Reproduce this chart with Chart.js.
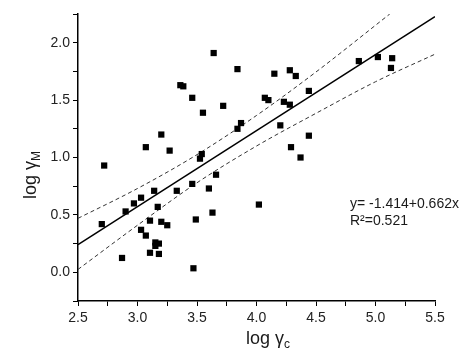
<!DOCTYPE html>
<html>
<head>
<meta charset="utf-8">
<script src="https://cdn.jsdelivr.net/npm/chart.js@4/dist/chart.umd.min.js"></script>
<style>
  html, body { margin: 0; padding: 0; background: #fff; }
  #wrap { width: 474px; height: 361px; }
</style>
</head>
<body>
<div id="wrap"><canvas id="chart" width="474" height="361"></canvas></div>
<script>
// log gamma_c vs log gamma_M, with linear fit and confidence band

const X_TICKS = [2.5, 3.0, 3.5, 4.0, 4.5, 5.0, 5.5];
const Y_TICKS = [0.0, 0.5, 1.0, 1.5, 2.0];

const logGc = [2.70, 2.72, 2.87, 2.90, 2.97, 3.03, 3.03, 3.07, 3.07, 3.105,
  3.105, 3.14, 3.15, 3.15, 3.17, 3.18, 3.18, 3.20, 3.20, 3.25,
  3.27, 3.33, 3.36, 3.385, 3.46, 3.46, 3.47, 3.49, 3.525, 3.54,
  3.55, 3.60, 3.63, 3.64, 3.66, 3.72, 3.84, 3.84, 3.87, 4.02,
  4.07, 4.10, 4.15, 4.20, 4.23, 4.28, 4.28, 4.29, 4.33, 4.37,
  4.44, 4.44, 4.86, 5.02, 5.13, 5.14];
const logGm = [0.42, 0.93, 0.125, 0.53, 0.60, 0.65, 0.37, 0.32, 1.09, 0.45,
  0.17, 0.71, 0.26, 0.23, 0.57, 0.25, 0.16, 0.44, 1.20, 0.41,
  1.06, 0.71, 1.63, 1.62, 0.77, 1.52, 0.035, 0.46, 0.99, 1.03,
  1.39, 0.73, 0.52, 1.91, 0.85, 1.45, 1.77, 1.25, 1.30, 0.59,
  1.52, 1.50, 1.73, 1.28, 1.485, 1.76, 1.46, 1.09, 1.71, 1.00,
  1.19, 1.58, 1.84, 1.875, 1.78, 1.865];

// fit line ends (y = -1.414 + 0.662x)
const fitX = [2.5, 5.5];
const fitY = [0.241, 2.227];

// dashed band
const upperX = [2.5, 3.0, 3.5, 4.0, 4.5, 5.12];
const upperY = [0.47, 0.73, 1.025, 1.366, 1.745, 2.25];
const lowerX = [2.5, 3.0, 3.5, 4.0, 4.5, 5.0, 5.5];
const lowerY = [0.025, 0.41, 0.78, 1.10, 1.385, 1.66, 1.90];

const toPts = (xs, ys) => xs.map((x, i) => ({ x: x, y: ys[i] }));

const FONT = "Liberation Sans, Arial, sans-serif";

const isMajor = (v, list) => list.some(t => Math.abs(t - v) < 1e-6);

// axis titles and the fit equation, drawn on the canvas
const textPlugin = {
  id: "texts",
  afterDraw(chart) {
    const ctx = chart.ctx;
    ctx.save();
    ctx.fillStyle = "#1a1a1a";
    ctx.textBaseline = "alphabetic";
    ctx.textAlign = "left";

    // x title
    ctx.font = "18px " + FONT;
    const xt = "log \u03b3";
    const xw = ctx.measureText(xt).width;
    ctx.font = "12px " + FONT;
    const xs = ctx.measureText("c").width;
    const xStart = 268 - (xw + xs) / 2;
    ctx.font = "18px " + FONT;
    ctx.fillText(xt, xStart, 344);
    ctx.font = "12px " + FONT;
    ctx.fillText("c", xStart + xw, 348);

    // y title
    ctx.save();
    ctx.translate(36, 175);
    ctx.rotate(-Math.PI / 2);
    ctx.font = "18px " + FONT;
    const yt = "log \u03b3";
    const yw = ctx.measureText(yt).width;
    ctx.font = "12px " + FONT;
    const ys = ctx.measureText("M").width;
    const yStart = -(yw + ys) / 2;
    ctx.font = "18px " + FONT;
    ctx.fillText(yt, yStart, 0);
    ctx.font = "12px " + FONT;
    ctx.fillText("M", yStart + yw, 4);
    ctx.restore();

    // equation
    ctx.font = "14px " + FONT;
    ctx.fillText("y= -1.414+0.662x", 350, 208);
    ctx.fillText("R\u00b2=0.521", 350, 225);
    ctx.restore();
  }
};

new Chart(document.getElementById("chart").getContext("2d"), {
  type: "scatter",
  data: {
    datasets: [
      {
        label: "points",
        data: toPts(logGc, logGm),
        pointStyle: "rect",
        pointRadius: 4.4,
        backgroundColor: "#000",
        borderColor: "#000",
        borderWidth: 0,
        order: 0
      },
      {
        label: "fit",
        data: toPts(fitX, fitY),
        showLine: true,
        pointRadius: 0,
        borderColor: "#000",
        borderWidth: 1.6,
        order: 1
      },
      {
        label: "upper",
        data: toPts(upperX, upperY),
        showLine: true,
        pointRadius: 0,
        borderColor: "#333",
        borderWidth: 1,
        borderDash: [4, 3],
        cubicInterpolationMode: "monotone",
        order: 2
      },
      {
        label: "lower",
        data: toPts(lowerX, lowerY),
        showLine: true,
        pointRadius: 0,
        borderColor: "#333",
        borderWidth: 1,
        borderDash: [4, 3],
        cubicInterpolationMode: "monotone",
        order: 2
      }
    ]
  },
  options: {
    responsive: false,
    animation: false,
    layout: { padding: { top: 14, right: 39, left: 0, bottom: 0 } },
    plugins: {
      legend: { display: false },
      tooltip: { enabled: false }
    },
    scales: {
      x: {
        type: "linear",
        min: 2.5,
        max: 5.5,
        afterFit: s => { s.height = 60; },
        ticks: {
          stepSize: 0.25,
          autoSkip: false,
          maxRotation: 0,
          padding: 4,
          color: "#222",
          font: { family: FONT, size: 14 },
          callback: v => isMajor(v, X_TICKS) ? v.toFixed(1) : ""
        },
        grid: {
          drawOnChartArea: false,
          drawTicks: true,
          tickLength: 5,
          tickColor: "#000",
          tickWidth: 1
        },
        border: { display: true, color: "#000", width: 1.5 }
      },
      y: {
        type: "linear",
        min: -0.25,
        max: 2.25,
        afterFit: s => { s.width = 78; },
        ticks: {
          stepSize: 0.25,
          autoSkip: false,
          padding: 3,
          color: "#222",
          font: { family: FONT, size: 14 },
          callback: v => isMajor(v, Y_TICKS) ? v.toFixed(1) : ""
        },
        grid: {
          drawOnChartArea: false,
          drawTicks: true,
          tickLength: 5,
          tickColor: "#000",
          tickWidth: 1
        },
        border: { display: true, color: "#000", width: 1.5 }
      }
    }
  },
  plugins: [textPlugin]
});
</script>
</body>
</html>
